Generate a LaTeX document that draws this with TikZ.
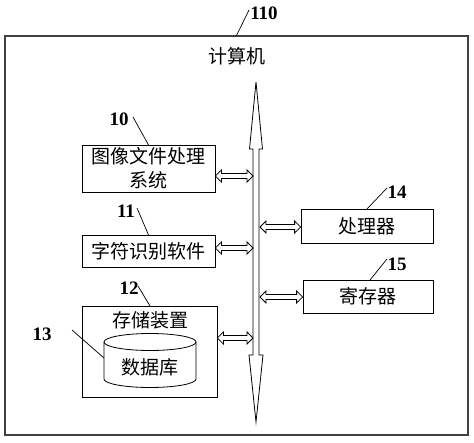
\documentclass[tikz,border=0pt]{standalone}
\usepackage{fontspec}
\newfontfamily\cjk{Noto Sans CJK SC}
\newfontfamily\numfont{Liberation Serif}
\usetikzlibrary{calc}
\newcommand\dblarrow[2]{%
  \draw[hollow] let \p1=(#1), \p2=(#2) in
    (\x1,\y1) -- (\x1+6pt,\y1+6pt) -- (\x1+6pt,\y1+2.5pt) -- (\x2-6pt,\y1+2.5pt)
    -- (\x2-6pt,\y1+6pt) -- (\x2,\y1) -- (\x2-6pt,\y1-6pt) -- (\x2-6pt,\y1-2.5pt)
    -- (\x1+6pt,\y1-2.5pt) -- (\x1+6pt,\y1-6pt) -- cycle;}
\begin{document}
\begin{tikzpicture}[x=1pt,y=-1pt,
  box/.style={draw, line width=0.8pt, inner sep=0pt, align=center,
    font=\cjk\fontsize{19}{24}\selectfont},
  cn/.style={font=\cjk\fontsize{19}{24}\selectfont, inner sep=0pt},
  num/.style={font=\numfont\bfseries\fontsize{19}{19}\selectfont, inner sep=0pt},
  lead/.style={line width=0.7pt},
  hollow/.style={draw, line width=0.8pt, fill=white, line join=miter}
]
\useasboundingbox (0,0) rectangle (474,442);
% outer computer box
\node[draw=black!75, line width=1.1pt, minimum width=463pt, minimum height=399pt, inner sep=0pt] (pc) at (236.5,235.5) {};
\node[cn] (pctext) at (237,56) {计算机};
\node[num] (n110) at (264,13) {110};
\coordinate (l110) at (249,10);
\draw[lead] (pc.north) -- (l110);

% bus
\coordinate (busT) at (256,82);
\coordinate (busB) at (256,422);
\draw[hollow] (busT) -- (249.5,149) -- (253,149) -- (253,355) -- (249,355) -- (busB)
  -- (263,355) -- (259,355) -- (259,149) -- (262.5,149) -- cycle;

% boxes
\node[box, minimum width=133pt, minimum height=47pt] (box10) at (148.5,168.5) {图像文件处理\\系统};
\node[box, minimum width=133pt, minimum height=32pt] (box11) at (148.5,251) {字符识别软件};
\node[draw, line width=0.8pt, inner sep=0pt, minimum width=135pt, minimum height=91pt] (box12) at (149.5,351.5) {};
\node[cn] (t12) at (150,320) {存储装置};
\node[box, minimum width=132pt, minimum height=34pt] (box14) at (367,226) {处理器};
\node[box, minimum width=130pt, minimum height=33pt] (box15) at (368,296.5) {寄存器};

% cylinder database
\draw[line width=0.8pt, fill=white] (104,342) -- (104,379)
  arc[start angle=180, end angle=360, x radius=46pt, y radius=8.5pt] -- (196,342);
\draw[line width=0.8pt] (150,342) ellipse [x radius=46pt, y radius=8.5pt];
\coordinate (cylW) at (104,358);
\node[cn] (db) at (150,367) {数据库};

% labels and leaders
\node[num] (n10) at (119,119) {10};
\coordinate (l10) at (133,117);
\draw[lead] (l10) -- (box10.north |- 148,145);
\node[num] (n11) at (126,211) {11};
\coordinate (l11) at (137,208);
\draw[lead] (l11) -- (box11.north |- 150,235) ;
\node[num] (n12) at (129,288) {12};
\coordinate (l12) at (138,286);
\draw[lead] (l12) -- (150,306);
\node[num] (n13) at (42,334) {13};
\coordinate (l13) at (72,330);
\draw[lead] (l13) -- (cylW);
\node[num] (n14) at (397,192) {14};
\coordinate (l14) at (387,188);
\draw[lead] (l14) -- (367,209);
\node[num] (n15) at (397,264) {15};
\coordinate (l15) at (387,259);
\draw[lead] (l15) -- (370,280);

% bus connectors
\coordinate (a10) at (253,176);
\coordinate (a11) at (253,248);
\coordinate (a12) at (253,338);
\coordinate (a14) at (260,227);
\coordinate (a15) at (260,297);
\dblarrow{box10.east |- a10}{a10}
\dblarrow{box11.east |- a11}{a11}
\dblarrow{box12.east |- a12}{a12}
\dblarrow{a14}{box14.west |- a14}
\dblarrow{a15}{box15.west |- a15}
\end{tikzpicture}
\end{document}
